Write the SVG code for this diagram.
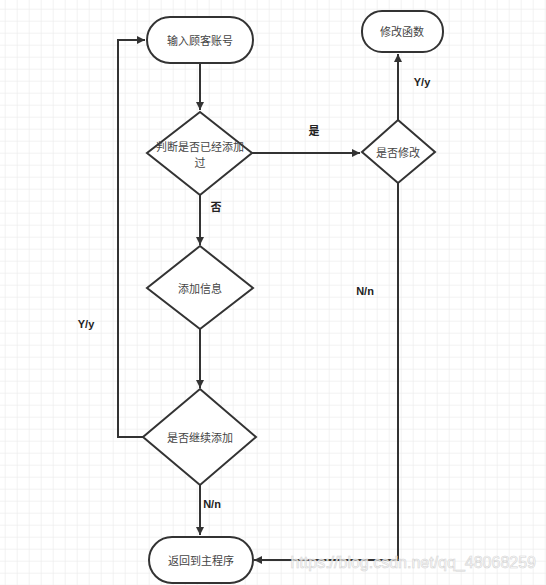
<svg xmlns="http://www.w3.org/2000/svg" width="546" height="585" viewBox="0 0 546 585">
<defs>
<pattern id="grid" x="4.7" y="8.7" width="12" height="12" patternUnits="userSpaceOnUse">
<path d="M0 0H12M0 0V12" fill="none" stroke="#e6e6e6" stroke-width="1"/>
</pattern>
<marker id="arr" viewBox="0 0 10 10" refX="10" refY="5" markerWidth="8" markerHeight="8" markerUnits="userSpaceOnUse" orient="auto">
<path d="M0 0L10 5L0 10Z" fill="#333"/>
</marker>
<style>
.shape{fill:#fff;stroke:#333;stroke-width:2}
.t{font-family:"Noto Sans CJK SC","Liberation Sans",sans-serif;font-size:11px;fill:#444;text-anchor:middle;dominant-baseline:central}
.lbl{font-family:"Liberation Sans","Noto Sans CJK SC",sans-serif;font-size:11px;font-weight:bold;fill:#222;text-anchor:middle;dominant-baseline:central}
.c{fill:none;stroke:#333;stroke-width:2}
</style>
</defs>
<rect width="546" height="585" fill="#fff"/>
<rect width="546" height="585" fill="url(#grid)"/>
<g id="connectors">
<path class="c" d="M200 63V110" marker-end="url(#arr)"/>
<path class="c" d="M252 153H360" marker-end="url(#arr)"/>
<path class="c" d="M398 120V54" marker-end="url(#arr)"/>
<path class="c" d="M200 195V245" marker-end="url(#arr)"/>
<path class="c" d="M200 329V388" marker-end="url(#arr)"/>
<path class="c" d="M143 437H118V40H145" marker-end="url(#arr)"/>
<path class="c" d="M200 485V535" marker-end="url(#arr)"/>
<path class="c" d="M398 183V560H254" marker-end="url(#arr)"/>
<text class="lbl" x="314" y="131">是</text>
<text class="lbl" x="422" y="82">Y/y</text>
<text class="lbl" x="216" y="207">否</text>
<text class="lbl" x="365" y="291">N/n</text>
<text class="lbl" x="86" y="324">Y/y</text>
<text class="lbl" x="212" y="504">N/n</text>
</g>
<g id="n1"><rect class="shape" x="147" y="17" width="106" height="46" rx="23"/><text class="t" x="200" y="40">输入顾客账号</text></g>
<g id="n2"><path class="shape" d="M200 112L252 153L200 195L147 153Z"/><text class="t" x="200" y="145.5">判断是否已经添加</text><text class="t" x="200" y="161.5">过</text></g>
<g id="n3"><path class="shape" d="M398 120L435 152L398 183L362 152Z"/><text class="t" x="398" y="152">是否修改</text></g>
<g id="n4"><rect class="shape" x="362" y="11" width="81" height="41" rx="20"/><text class="t" x="402" y="31">修改函数</text></g>
<g id="n5"><path class="shape" d="M200 246L253 288L200 329L147 288Z"/><text class="t" x="200" y="288">添加信息</text></g>
<g id="n6"><path class="shape" d="M200 389L256 437L200 485L143 437Z"/><text class="t" x="200" y="437">是否继续添加</text></g>
<g id="n7"><rect class="shape" x="149" y="537" width="104" height="46" rx="23"/><text class="t" x="201" y="560">返回到主程序</text></g>
<text x="536" y="568" font-family="Liberation Sans,sans-serif" font-size="16" fill="#fff" stroke="#d0d0d0" stroke-width="0.6" text-anchor="end" opacity="0.9">https://blog.csdn.net/qq_48068259</text>
</svg>
